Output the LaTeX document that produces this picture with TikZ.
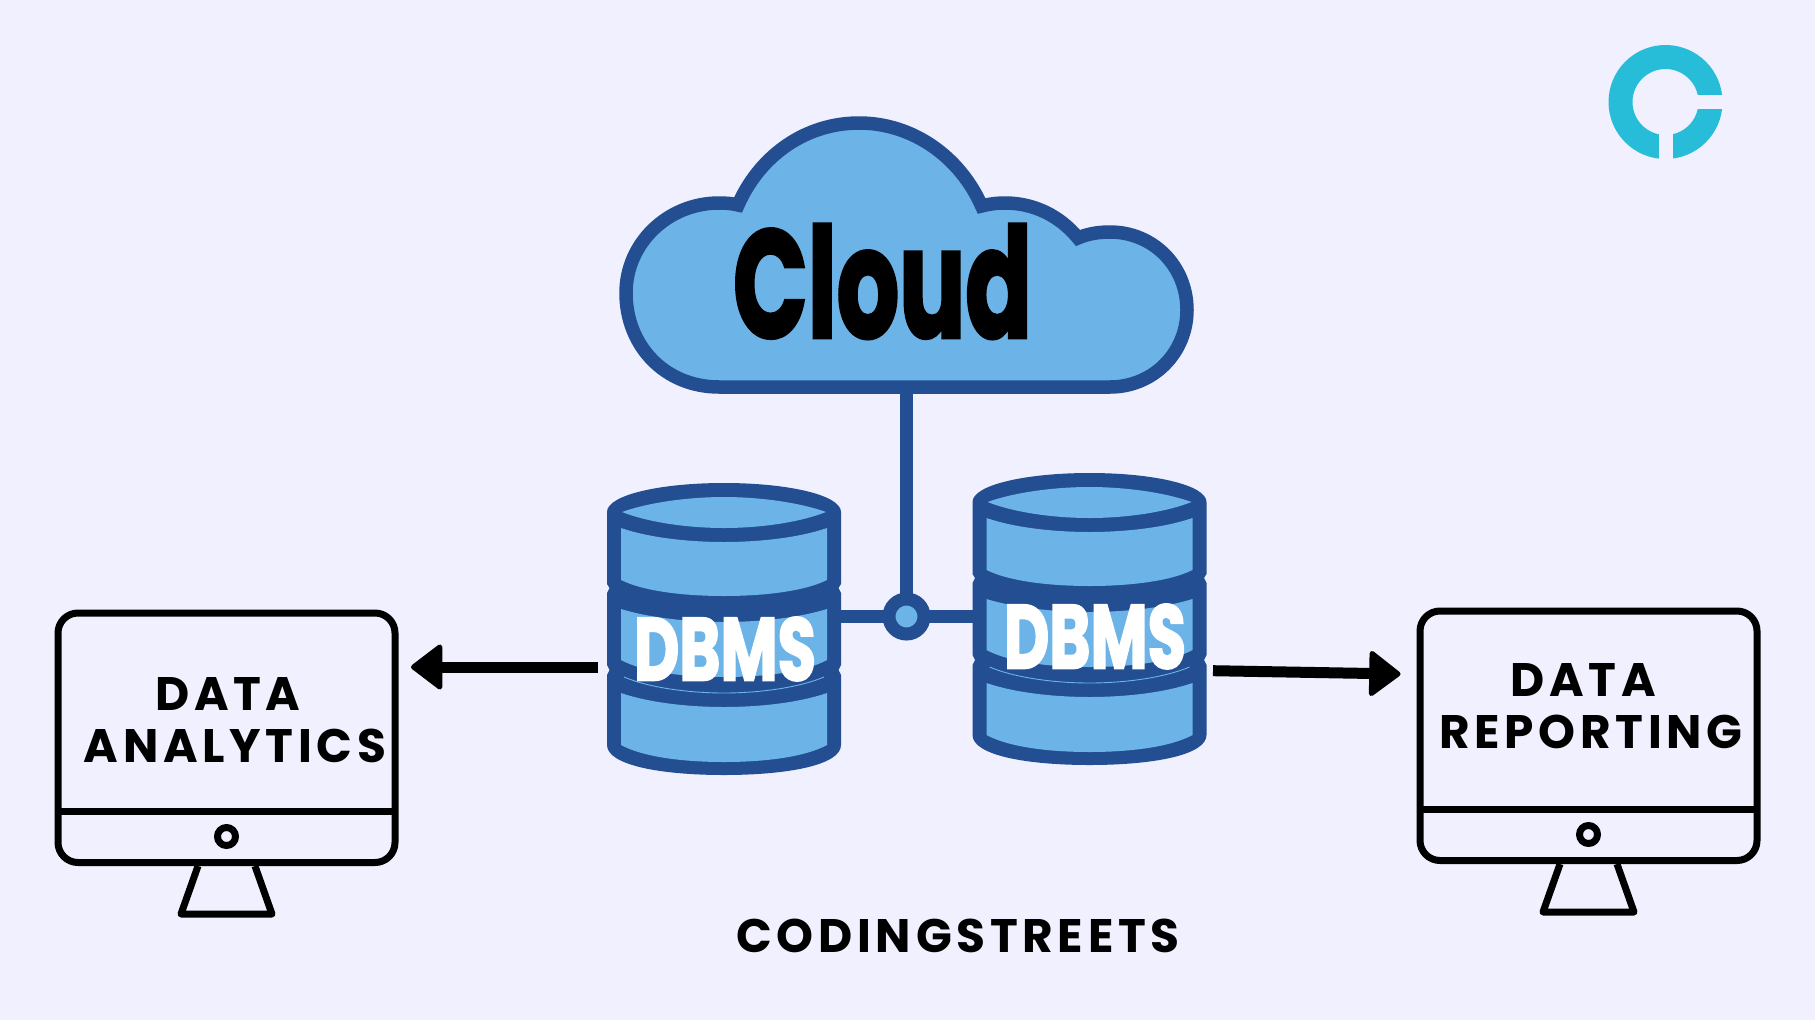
\documentclass[tikz,border=0pt]{standalone}
\usepackage{fontspec}
\usepackage{graphicx}
\usetikzlibrary{arrows.meta}
\setmainfont{Poppins}
\newfontfamily\labelfont[LetterSpace=10]{Poppins}
\newfontfamily\chunkyfont[BoldFeatures={FakeBold=2.5}]{Poppins}
\definecolor{bgc}{RGB}{240,240,254}
\definecolor{darkblue}{RGB}{35,78,145}
\definecolor{lightblue}{RGB}{108,179,231}
\definecolor{tealc}{RGB}{39,188,216}
\tikzset{
  x=1pt,y=-1pt,
  lightpart/.style={fill=lightblue},
  darkpart/.style={fill=darkblue},
  link/.style={draw=darkblue,line width=13.5pt},
  monline/.style={draw=black,line width=7pt,line join=round},
  datalabel/.style={inner sep=0pt,align=center,font=\labelfont\bfseries\fontsize{47}{52.5}\selectfont},
  flow/.style={draw=black,line width=11pt,-{Triangle[length=33pt,width=49pt,line width=5pt,round]}},
  chunky/.style={inner sep=0pt,outer sep=0pt,font=\chunkyfont\bfseries},
}
\newcommand{\dbcyl}[3]{%
 \begin{scope}[shift={(#2,#3)}]
  \node[minimum width=234pt,minimum height=292pt,inner sep=0pt,outer sep=0pt] (#1) at (724,629) {};
  \path[darkpart] (607,512) .. controls (607,495) and (660,483) .. (724,483)
     .. controls (788,483) and (841,495) .. (841,512)
     -- (841,584) -- (838.5,588) -- (841,593) -- (841,665) -- (838.5,670) -- (841,675) -- (841,745)
     .. controls (841,765) and (788,775) .. (724,775)
     .. controls (660,775) and (607,765) .. (607,745)
     -- (607,675) -- (609.5,670) -- (607,665) -- (607,593) -- (609.5,588) -- (607,584) -- cycle;
  \path[lightpart] (622,512) .. controls (650,502) and (690,497) .. (724,497)
     .. controls (758,497) and (798,502) .. (826,512)
     .. controls (798,523) and (758,528) .. (724,528)
     .. controls (690,528) and (650,523) .. (622,512) -- cycle;
  \path[lightpart] (621,528) .. controls (650,538) and (690,542) .. (724,542)
     .. controls (758,542) and (798,538) .. (827,528) -- (827,580)
     .. controls (805,591) and (765,596) .. (724,596)
     .. controls (683,596) and (643,591) .. (621,580) -- cycle;
  \path[lightpart] (621,609) .. controls (650,618) and (690,622) .. (724,622)
     .. controls (758,622) and (798,618) .. (827,609) -- (827,660)
     .. controls (805,672) and (765,677) .. (724,677)
     .. controls (683,677) and (643,672) .. (621,660) -- cycle;
  \draw[lightblue,line width=.9pt] (624,677) .. controls (650,688) and (690,693) .. (724,693)
     .. controls (758,693) and (798,688) .. (824,677);
  \path[lightpart] (621,693) .. controls (650,703) and (690,707) .. (724,707)
     .. controls (758,707) and (798,703) .. (827,693) -- (827,745)
     .. controls (805,757) and (765,762) .. (724,762)
     .. controls (683,762) and (643,757) .. (621,745) -- cycle;
 \end{scope}}
\newcommand{\monitor}[3]{%
 \begin{scope}[shift={(#2,#3)}]
  \node[monline,rounded corners=20pt,minimum width=337pt,minimum height=249.5pt,inner sep=0pt,outer sep=0pt] (#1) at (226.5,737.75) {};
  \draw[monline] (#1.west |- 0,811) -- (#1.east |- 0,811);
  \draw[monline] (226.5,836.5) circle[radius=9pt];
  \draw[monline] (198,866) -- (181,914) -- (272,914) -- (255,866);
 \end{scope}}
\begin{document}
\begin{tikzpicture}
\useasboundingbox (0,0) rectangle (1815,1020);
\fill[bgc] (0,0) rectangle (1815,1020);
% logo
\fill[tealc,even odd rule] (1665.5,102) circle[radius=57pt] (1665.5,102) circle[radius=33pt];
\fill[bgc] (1690,95) rectangle (1730,109.3);
\fill[bgc] (1658.7,130) rectangle (1672.7,165);
% named frames
\node[minimum width=575pt,minimum height=271pt,inner sep=0pt,outer sep=0pt] (cloudbox) at (906.5,258.5) {};
\node[circle,draw=darkblue,fill=lightblue,line width=13pt,minimum size=35pt,inner sep=0pt,outer sep=0pt] (hub) at (906.5,616.5) {};
% cylinders
\dbcyl{dbleft}{0}{0}
\dbcyl{dbright}{365.5}{-10}
% connectors
\draw[link] (cloudbox.south) -- (hub.north);
\draw[link] (dbleft.east |- hub.west) -- (hub.west);
\draw[link] (hub.east) -- (dbright.west |- hub.east);
% cloud
\path[draw=darkblue,line width=13.5pt,fill=lightblue,miter limit=10]
  (719,387) .. controls (665,387) and (626,346) .. (626,293)
  .. controls (626,243) and (668,203) .. (719,203)
  .. controls (726,203) and (732,203.5) .. (738,205)
  .. controls (760,155) and (806,123) .. (859,123)
  .. controls (913,123) and (960,157) .. (981.6,206)
  .. controls (989,204) and (997,203) .. (1005,203)
  .. controls (1034,203) and (1060,216) .. (1078,238)
  .. controls (1087,234) and (1098,232) .. (1110,232)
  .. controls (1153,232) and (1187,266) .. (1187,310)
  .. controls (1187,353) and (1153,387) .. (1110,387) -- cycle;
\node[chunky,text=black] (cloudtext) at (882.5,281.5) {\resizebox{299pt}{113pt}{Cloud}};
\node[chunky,text=white] (dbmsa) at (725,649) {\resizebox{182pt}{63pt}{DBMS}};
\node[chunky,text=white] (dbmsb) at (1095,636.5) {\resizebox{182pt}{64pt}{DBMS}};
% monitors
\monitor{monleft}{0}{0}
\monitor{monright}{1362}{-2}
\node[datalabel] (lableft) at (228,720) {DATA\\\hspace*{14pt}ANALYTICS};
\node[datalabel] (labright) at (1583,706) {DATA\\\hspace*{16pt}REPORTING};
% arrows
\coordinate (aLs) at (598,667);
\coordinate (aLe) at (411,667);
\coordinate (aRs) at (1213,670.7);
\coordinate (aRe) at (1400.5,674);
\draw[flow] (aLs) -- (aLe);
\draw[flow] (aRs) -- (aRe);
% brand
\node[inner sep=0pt,font=\labelfont\bfseries\fontsize{47}{52}\selectfont] (brand) at (958,935.5) {CODINGSTREETS};
\end{tikzpicture}
\end{document}
